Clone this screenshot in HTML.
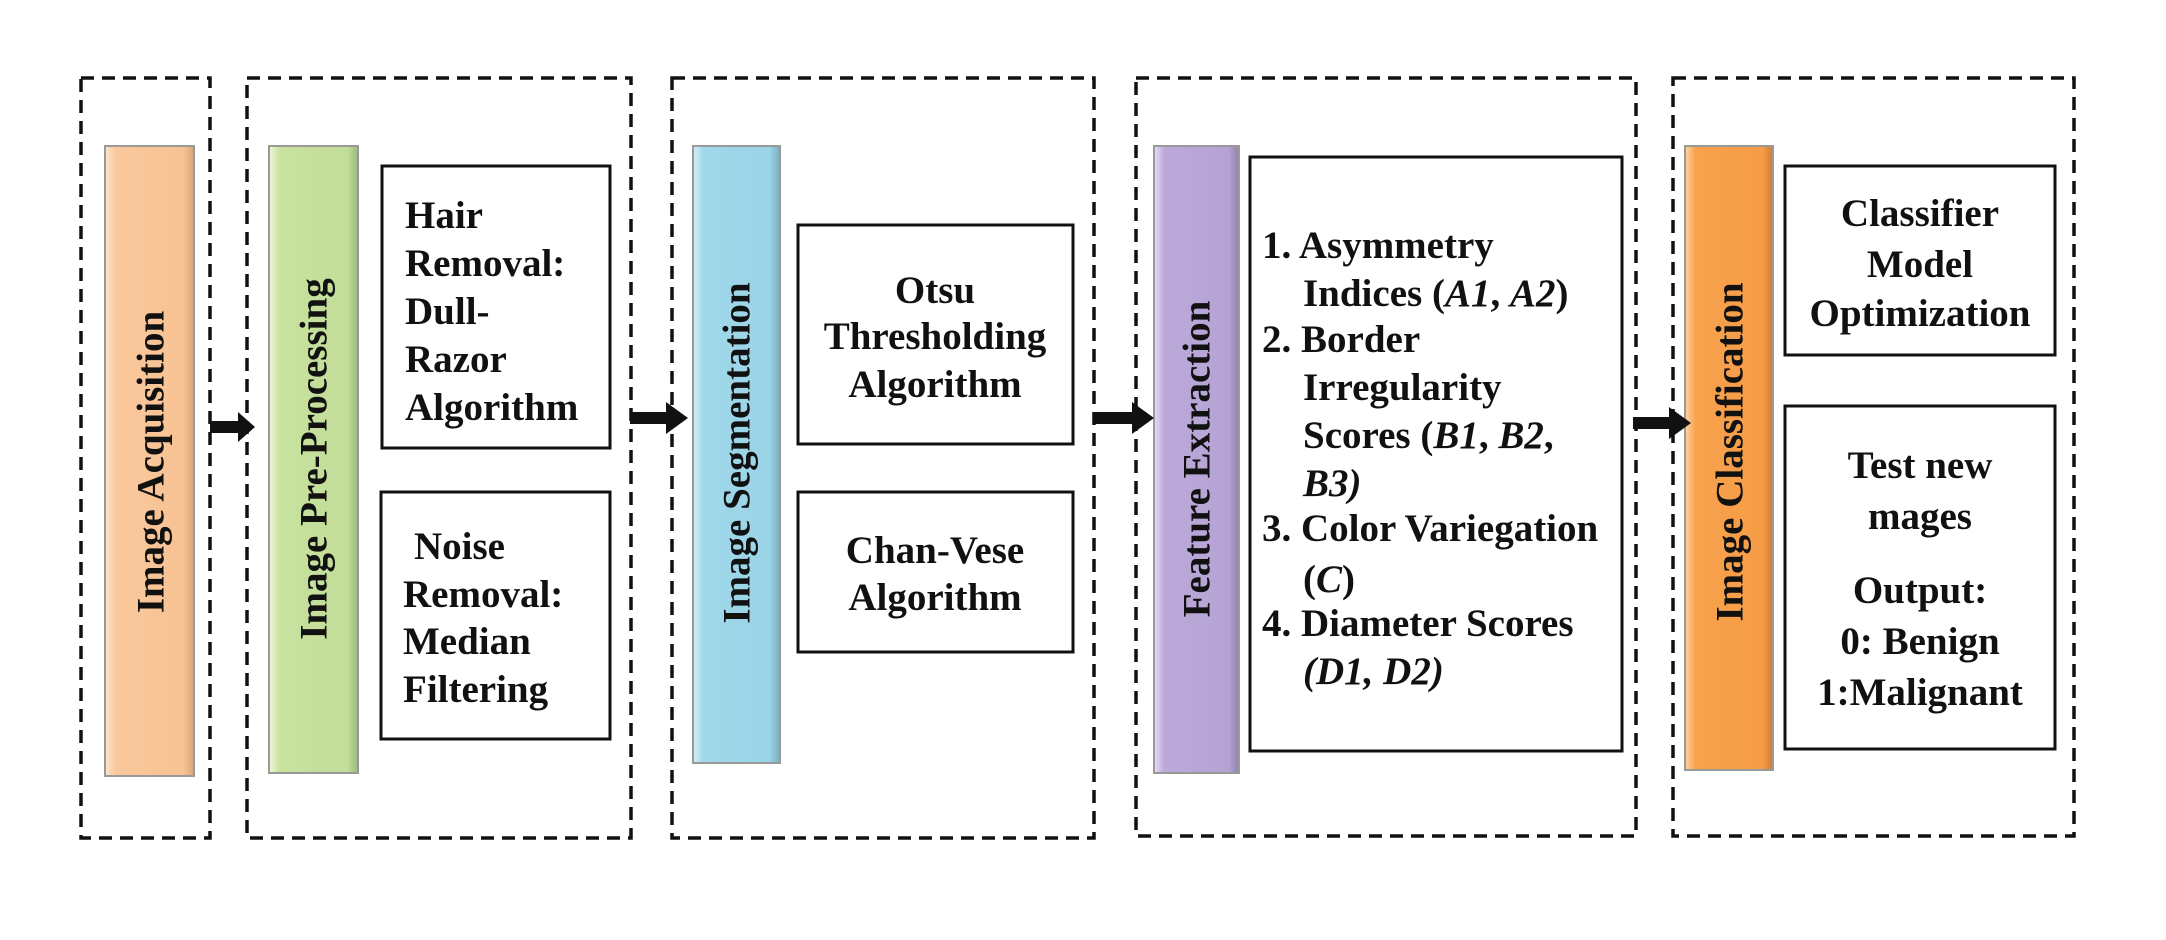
<!DOCTYPE html>
<html><head><meta charset="utf-8"><style>
html,body{margin:0;padding:0;background:#fff;}
svg{display:block;}
text{font-family:"Liberation Serif",serif;font-weight:bold;font-size:39px;fill:#111;}
</style></head><body>
<svg width="2166" height="940" viewBox="0 0 2166 940" xmlns="http://www.w3.org/2000/svg">
<defs>
<linearGradient id="g1" x1="0" x2="1"><stop offset="0" stop-color="#fde6cf"/><stop offset="0.12" stop-color="#f9c89b"/><stop offset="0.88" stop-color="#f7c294"/><stop offset="1" stop-color="#d9a57a"/></linearGradient>
<linearGradient id="g2" x1="0" x2="1"><stop offset="0" stop-color="#eef7d8"/><stop offset="0.12" stop-color="#c8e29f"/><stop offset="0.88" stop-color="#c2dd98"/><stop offset="1" stop-color="#9cb97a"/></linearGradient>
<linearGradient id="g3" x1="0" x2="1"><stop offset="0" stop-color="#d6f0f8"/><stop offset="0.12" stop-color="#a0d8ea"/><stop offset="0.88" stop-color="#9ad4e6"/><stop offset="1" stop-color="#78aec0"/></linearGradient>
<linearGradient id="g4" x1="0" x2="1"><stop offset="0" stop-color="#e8defa"/><stop offset="0.12" stop-color="#bba9da"/><stop offset="0.88" stop-color="#b5a3d4"/><stop offset="1" stop-color="#8f80ab"/></linearGradient>
<linearGradient id="g5" x1="0" x2="1"><stop offset="0" stop-color="#fdd6a8"/><stop offset="0.12" stop-color="#f8a24e"/><stop offset="0.88" stop-color="#f59c46"/><stop offset="1" stop-color="#cf7e36"/></linearGradient>
</defs>
<g fill="none" stroke="#111" stroke-width="3.5" stroke-dasharray="13,8">
<rect x="81" y="78" width="129" height="760"/>
<rect x="247" y="78" width="384" height="760"/>
<rect x="672" y="78" width="422" height="760"/>
<rect x="1136" y="78" width="500" height="758"/>
<rect x="1673" y="78" width="401" height="758"/>
</g>
<g stroke="#999" stroke-width="2">
<rect x="105" y="146" width="89" height="630" fill="url(#g1)"/>
<rect x="269" y="146" width="89" height="627" fill="url(#g2)"/>
<rect x="693" y="146" width="87" height="617" fill="url(#g3)"/>
<rect x="1154" y="146" width="85" height="627" fill="url(#g4)"/>
<rect x="1685" y="146" width="88" height="624" fill="url(#g5)"/>
</g>
<g fill="#fff" stroke="#111" stroke-width="3">
<rect x="382" y="166" width="228" height="282"/>
<rect x="381" y="492" width="229" height="247"/>
<rect x="798" y="225" width="275" height="219"/>
<rect x="798" y="492" width="275" height="160"/>
<rect x="1250" y="157" width="372" height="594"/>
<rect x="1785" y="166" width="270" height="189"/>
<rect x="1785" y="406" width="270" height="343"/>
</g>
<g fill="#111">
<rect x="210" y="421" width="32" height="12"/><polygon points="238,412 255,427 238,442"/>
<rect x="630" y="412" width="40" height="12"/><polygon points="666,402 688,418 666,434"/>
<rect x="1093" y="412" width="42" height="12"/><polygon points="1132,402 1154,418 1132,434"/>
<rect x="1633" y="417" width="40" height="12"/><polygon points="1669,407 1691,423 1669,439"/>
</g>
<text transform="translate(150,462) rotate(-90)" text-anchor="middle" dy="0.35em">Image Acquisition</text>
<text transform="translate(313,459) rotate(-90)" text-anchor="middle" dy="0.35em">Image Pre-Processing</text>
<text transform="translate(736,453) rotate(-90)" text-anchor="middle" dy="0.35em">Image Segmentation</text>
<text transform="translate(1196,459) rotate(-90)" text-anchor="middle" dy="0.35em">Feature Extraction</text>
<text transform="translate(1729,452) rotate(-90)" text-anchor="middle" dy="0.35em">Image Classification</text>
<text x="405" y="228">Hair</text>
<text x="405" y="276">Removal:</text>
<text x="405" y="324">Dull-</text>
<text x="405" y="372">Razor</text>
<text x="405" y="420">Algorithm</text>
<text x="414" y="559">Noise</text>
<text x="403" y="607">Removal:</text>
<text x="403" y="654">Median</text>
<text x="403" y="702">Filtering</text>
<g text-anchor="middle">
<text x="935" y="303">Otsu</text>
<text x="935" y="349">Thresholding</text>
<text x="935" y="397">Algorithm</text>
<text x="935" y="563">Chan-Vese</text>
<text x="935" y="610">Algorithm</text>
<text x="1920" y="226">Classifier</text>
<text x="1920" y="277">Model</text>
<text x="1920" y="326">Optimization</text>
<text x="1920" y="478">Test new</text>
<text x="1920" y="529">mages</text>
<text x="1920" y="603">Output:</text>
<text x="1920" y="654">0: Benign</text>
<text x="1920" y="705">1:Malignant</text>
</g>
<text x="1262" y="258">1. Asymmetry</text>
<text x="1303" y="306">Indices (<tspan font-style="italic">A1</tspan>, <tspan font-style="italic">A2</tspan>)</text>
<text x="1262" y="352">2. Border</text>
<text x="1303" y="400">Irregularity</text>
<text x="1303" y="448">Scores (<tspan font-style="italic">B1</tspan>, <tspan font-style="italic">B2</tspan>,</text>
<text x="1303" y="496" font-style="italic">B3)</text>
<text x="1262" y="541">3. Color Variegation</text>
<text x="1303" y="592">(<tspan font-style="italic">C</tspan>)</text>
<text x="1262" y="636">4. Diameter Scores</text>
<text x="1303" y="684" font-style="italic">(D1, D2)</text>
</svg>
</body></html>
